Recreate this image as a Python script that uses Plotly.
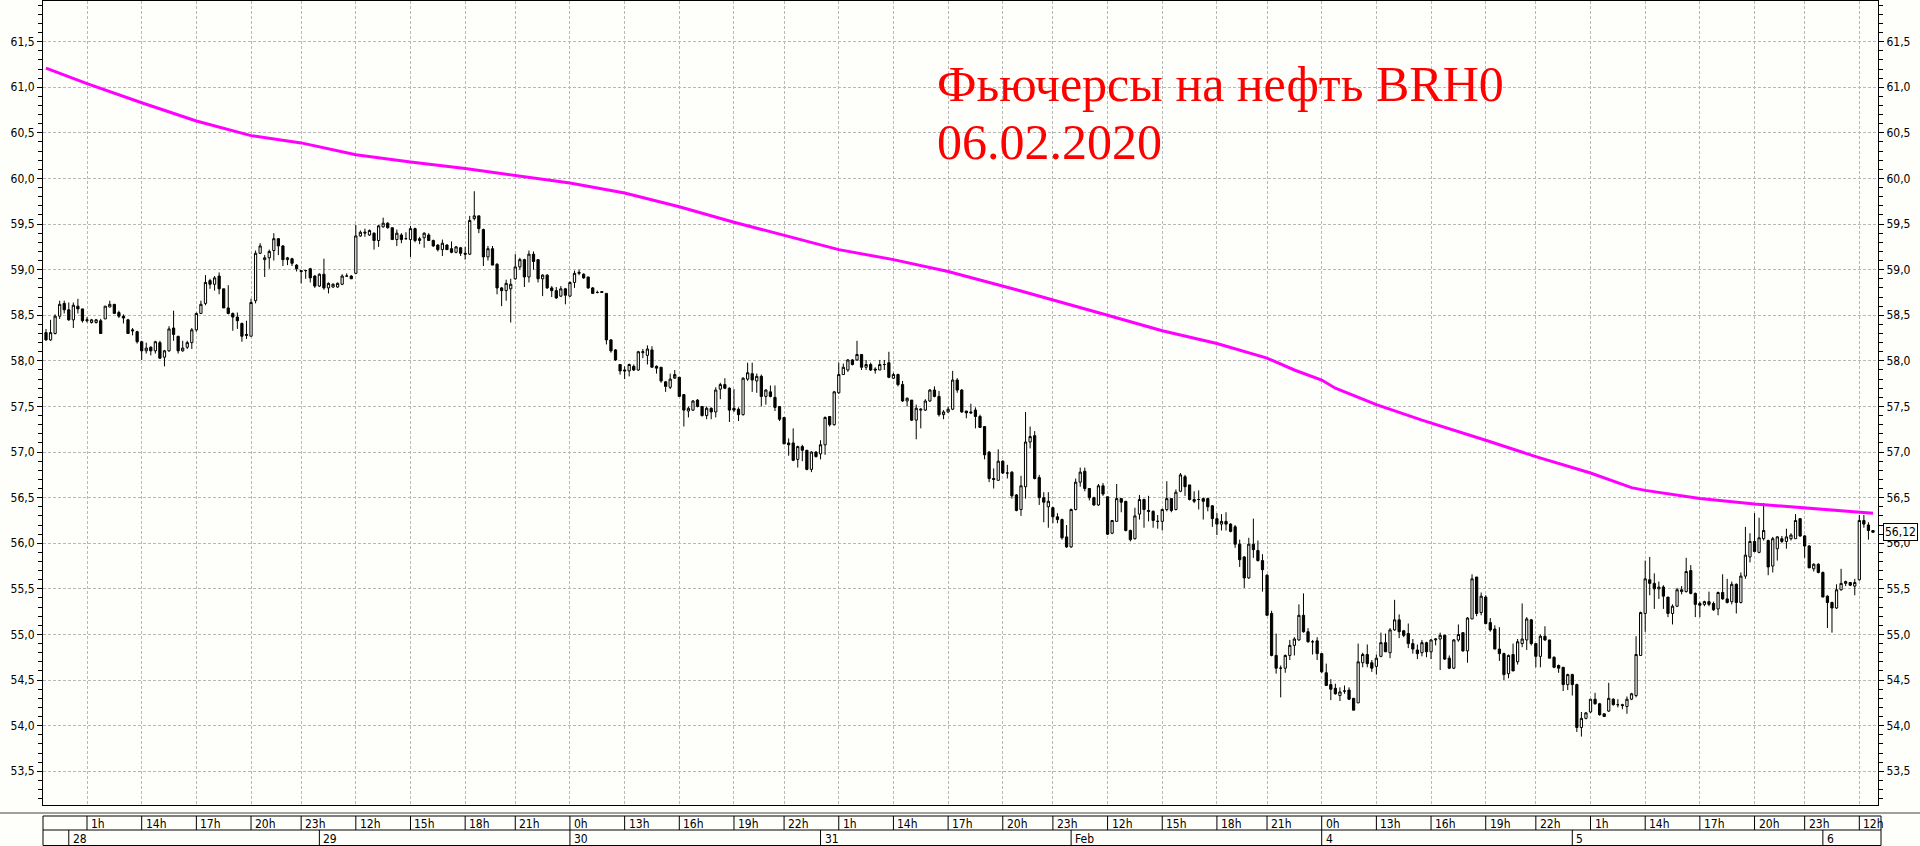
import plotly.graph_objects as go

# ---------------- DATA ----------------
opens = [
58.31, 58.23, 58.30, 58.49, 58.63, 58.56, 58.45, 58.60, 58.57, 58.44,
58.42, 58.42, 58.44, 58.46, 58.59, 58.62, 58.53, 58.49, 58.45, 58.34,
58.32, 58.21, 58.11, 58.15, 58.11, 58.20, 58.04, 58.11, 58.36, 58.27,
58.11, 58.15, 58.20, 58.34, 58.52, 58.63, 58.88, 58.84, 58.93, 58.79,
58.58, 58.52, 58.48, 58.41, 58.29, 58.27, 58.66, 59.18, 59.11, 59.13,
59.21, 59.34, 59.26, 59.11, 59.12, 59.05, 58.99, 58.99, 59.01, 58.93,
58.82, 58.95, 58.80, 58.81, 58.81, 58.84, 58.93, 58.93, 58.96, 59.37,
59.40, 59.38, 59.40, 59.32, 59.47, 59.51, 59.46, 59.33, 59.38, 59.34,
59.33, 59.45, 59.32, 59.35, 59.38, 59.32, 59.27, 59.22, 59.27, 59.23,
59.19, 59.24, 59.18, 59.17, 59.56, 59.59, 59.44, 59.14, 59.23, 59.06,
58.80, 58.77, 58.79, 58.90, 59.03, 59.11, 58.92, 59.17, 59.11, 58.90,
58.94, 58.80, 58.77, 58.71, 58.79, 58.71, 58.86, 58.96, 58.95, 58.92,
58.80, 58.75, 58.76, 58.74, 58.23, 58.12, 57.96, 57.90, 57.89, 57.94,
57.90, 58.09, 58.06, 58.12, 57.94, 57.93, 57.77, 57.71, 57.81, 57.82,
57.63, 57.45, 57.46, 57.57, 57.50, 57.40, 57.48, 57.44, 57.69, 57.74,
57.70, 57.48, 57.47, 57.41, 57.80, 57.86, 57.78, 57.83, 57.61, 57.66,
57.60, 57.50, 57.38, 57.10, 57.10, 56.92, 57.06, 57.02, 56.81, 57.00,
56.98, 57.08, 57.39, 57.30, 57.65, 57.85, 57.90, 58.01, 58.01, 58.07,
57.93, 57.96, 57.91, 57.90, 57.96, 57.98, 57.81, 57.85, 57.74, 57.56,
57.57, 57.35, 57.46, 57.46, 57.56, 57.68, 57.61, 57.41, 57.44, 57.47,
57.79, 57.68, 57.45, 57.44, 57.46, 57.39, 57.28, 57.00, 56.71, 56.69,
56.90, 56.77, 56.78, 56.53, 56.37, 56.62, 57.11, 57.18, 56.72, 56.50,
56.40, 56.39, 56.29, 56.26, 56.07, 55.96, 56.37, 56.67, 56.79, 56.60,
56.50, 56.42, 56.63, 56.51, 56.11, 56.24, 56.49, 56.46, 56.14, 56.05,
56.32, 56.48, 56.36, 56.35, 56.24, 56.24, 56.37, 56.49, 56.37, 56.57,
56.73, 56.64, 56.48, 56.48, 56.49, 56.49, 56.41, 56.27, 56.21, 56.24,
56.21, 56.18, 55.99, 55.85, 55.62, 55.99, 55.92, 55.81, 55.65, 55.23,
54.77, 54.63, 54.63, 54.77, 54.88, 54.94, 55.21, 55.03, 54.92, 54.93,
54.79, 54.58, 54.45, 54.41, 54.33, 54.38, 54.39, 54.30, 54.25, 54.69,
54.78, 54.69, 54.65, 54.76, 54.91, 54.80, 55.05, 55.16, 55.04, 55.01,
54.90, 54.83, 54.80, 54.91, 54.81, 54.94, 54.95, 54.99, 54.74, 54.63,
54.94, 55.02, 54.82, 55.17, 55.63, 55.24, 55.41, 55.13, 55.06, 54.84,
54.79, 54.57, 54.78, 54.70, 54.90, 54.94, 55.16, 54.90, 54.76, 54.98,
54.94, 54.75, 54.66, 54.64, 54.45, 54.56, 54.45, 53.98, 54.08, 54.15,
54.29, 54.24, 54.13, 54.16, 54.29, 54.23, 54.23, 54.21, 54.29, 54.33,
54.77, 55.23, 55.60, 55.56, 55.50, 55.52, 55.41, 55.23, 55.31, 55.47,
55.47, 55.70, 55.45, 55.34, 55.33, 55.36, 55.34, 55.28, 55.46, 55.39,
55.36, 55.55, 55.35, 55.64, 55.85, 56.02, 55.90, 56.05, 56.03, 55.75,
55.94, 56.05, 56.02, 56.05, 56.05, 56.27, 56.08, 55.97, 55.72, 55.77,
55.68, 55.42, 55.35, 55.29, 55.49, 55.56, 55.57, 55.53, 55.60, 56.25,
56.20, 56.14]

highs = [
58.35, 58.45, 58.51, 58.66, 58.66, 58.64, 58.64, 58.68, 58.57, 58.48,
58.46, 58.46, 58.46, 58.60, 58.66, 58.62, 58.55, 58.51, 58.46, 58.36,
58.33, 58.22, 58.20, 58.16, 58.22, 58.22, 58.12, 58.38, 58.55, 58.27,
58.22, 58.22, 58.36, 58.53, 58.66, 58.94, 58.90, 58.93, 58.97, 58.79,
58.83, 58.53, 58.53, 58.42, 58.44, 58.68, 59.21, 59.29, 59.16, 59.22,
59.40, 59.34, 59.27, 59.14, 59.13, 59.06, 58.99, 58.99, 59.02, 58.94,
58.96, 59.12, 58.86, 58.85, 58.86, 58.95, 58.96, 58.94, 59.49, 59.43,
59.45, 59.44, 59.41, 59.49, 59.57, 59.52, 59.46, 59.44, 59.40, 59.41,
59.48, 59.46, 59.36, 59.41, 59.40, 59.33, 59.28, 59.33, 59.28, 59.31,
59.26, 59.25, 59.25, 59.59, 59.86, 59.59, 59.45, 59.26, 59.26, 59.07,
58.81, 58.89, 58.90, 59.17, 59.13, 59.12, 59.21, 59.20, 59.11, 58.95,
58.95, 58.82, 58.81, 58.82, 58.80, 58.87, 58.99, 59.00, 58.96, 58.92,
58.81, 58.77, 58.76, 58.74, 58.24, 58.13, 57.96, 57.94, 57.97, 57.96,
58.11, 58.13, 58.17, 58.16, 57.95, 57.93, 57.78, 57.86, 57.90, 57.82,
57.63, 57.50, 57.57, 57.58, 57.50, 57.50, 57.49, 57.71, 57.76, 57.81,
57.71, 57.69, 57.49, 57.82, 57.98, 57.98, 57.86, 57.85, 57.69, 57.73,
57.73, 57.50, 57.38, 57.15, 57.26, 57.07, 57.08, 57.02, 57.01, 57.01,
57.13, 57.39, 57.39, 57.67, 57.98, 57.97, 58.02, 58.02, 58.22, 58.07,
58.01, 57.98, 57.93, 58.01, 58.01, 58.10, 57.87, 57.86, 57.78, 57.60,
57.57, 57.52, 57.48, 57.58, 57.69, 57.72, 57.67, 57.46, 57.50, 57.89,
57.81, 57.69, 57.45, 57.53, 57.49, 57.41, 57.28, 57.01, 56.82, 57.03,
56.91, 56.86, 56.79, 56.54, 56.74, 57.44, 57.28, 57.23, 56.75, 56.56,
56.56, 56.40, 56.33, 56.27, 56.20, 56.38, 56.71, 56.83, 56.83, 56.60,
56.51, 56.65, 56.66, 56.51, 56.25, 56.65, 56.49, 56.46, 56.15, 56.39,
56.53, 56.49, 56.52, 56.36, 56.31, 56.38, 56.68, 56.49, 56.59, 56.77,
56.75, 56.64, 56.57, 56.58, 56.50, 56.50, 56.42, 56.33, 56.32, 56.34,
56.22, 56.20, 56.04, 55.86, 56.06, 56.27, 56.03, 55.88, 55.66, 55.26,
55.01, 54.66, 54.78, 54.94, 54.97, 55.33, 55.45, 55.07, 54.94, 54.97,
54.79, 54.68, 54.51, 54.46, 54.42, 54.44, 54.42, 54.30, 54.90, 54.80,
54.89, 54.72, 54.78, 55.02, 55.01, 55.07, 55.38, 55.22, 55.05, 55.12,
54.95, 54.89, 54.94, 54.92, 54.95, 54.96, 55.02, 55.00, 54.77, 54.95,
55.11, 55.02, 55.19, 55.66, 55.63, 55.46, 55.43, 55.18, 55.10, 55.08,
54.80, 54.78, 54.90, 54.95, 55.34, 55.19, 55.17, 54.90, 55.00, 55.09,
54.94, 54.76, 54.67, 54.64, 54.57, 54.57, 54.46, 54.15, 54.15, 54.29,
54.36, 54.25, 54.13, 54.47, 54.30, 54.29, 54.24, 54.32, 54.36, 54.98,
55.25, 55.81, 55.85, 55.67, 55.58, 55.54, 55.41, 55.33, 55.51, 55.53,
55.84, 55.76, 55.46, 55.36, 55.37, 55.47, 55.36, 55.47, 55.66, 55.61,
55.58, 55.56, 55.68, 56.18, 56.11, 56.33, 56.28, 56.44, 56.04, 56.07,
56.08, 56.08, 56.16, 56.11, 56.32, 56.27, 56.09, 55.98, 55.78, 55.78,
55.69, 55.43, 55.36, 55.55, 55.72, 55.59, 55.57, 55.61, 56.31, 56.31,
56.23, 56.14]

lows = [
58.22, 58.22, 58.29, 58.46, 58.52, 58.44, 58.36, 58.52, 58.42, 58.42,
58.41, 58.41, 58.30, 58.46, 58.59, 58.52, 58.47, 58.41, 58.30, 58.28,
58.19, 58.01, 58.08, 58.06, 58.08, 58.02, 57.94, 58.10, 58.22, 58.08,
58.10, 58.13, 58.13, 58.32, 58.52, 58.61, 58.79, 58.77, 58.73, 58.58,
58.51, 58.33, 58.35, 58.21, 58.24, 58.27, 58.63, 59.17, 58.92, 59.01,
59.10, 59.16, 59.04, 59.05, 59.04, 58.98, 58.85, 58.90, 58.86, 58.80,
58.81, 58.78, 58.74, 58.80, 58.80, 58.83, 58.92, 58.90, 58.95, 59.36,
59.36, 59.37, 59.22, 59.25, 59.46, 59.45, 59.33, 59.26, 59.29, 59.33,
59.14, 59.30, 59.28, 59.24, 59.32, 59.25, 59.20, 59.15, 59.22, 59.18,
59.18, 59.15, 59.11, 59.16, 59.54, 59.40, 59.04, 59.10, 59.05, 58.73,
58.60, 58.66, 58.42, 58.89, 59.00, 58.81, 58.86, 59.00, 58.86, 58.71,
58.79, 58.70, 58.68, 58.70, 58.62, 58.70, 58.80, 58.94, 58.90, 58.79,
58.74, 58.74, 58.75, 58.18, 58.09, 58.00, 57.85, 57.80, 57.83, 57.89,
57.89, 58.03, 57.96, 57.93, 57.86, 57.76, 57.66, 57.69, 57.84, 57.61,
57.28, 57.38, 57.45, 57.49, 57.39, 57.36, 57.36, 57.38, 57.58, 57.69,
57.33, 57.44, 57.34, 57.40, 57.78, 57.66, 57.65, 57.50, 57.52, 57.60,
57.45, 57.34, 57.09, 56.96, 56.90, 56.83, 56.90, 56.80, 56.78, 56.94,
56.92, 56.97, 57.28, 57.29, 57.64, 57.85, 57.88, 57.95, 58.00, 57.90,
57.90, 57.89, 57.86, 57.90, 57.90, 57.81, 57.80, 57.72, 57.55, 57.50,
57.34, 57.14, 57.26, 57.45, 57.55, 57.60, 57.39, 57.36, 57.43, 57.46,
57.65, 57.43, 57.37, 57.42, 57.26, 57.27, 56.92, 56.67, 56.60, 56.69,
56.76, 56.71, 56.49, 56.35, 56.30, 56.49, 57.04, 56.70, 56.42, 56.23,
56.17, 56.22, 56.22, 56.04, 55.95, 55.95, 56.36, 56.62, 56.57, 56.47,
56.41, 56.41, 56.52, 56.09, 56.10, 56.24, 56.34, 56.13, 56.02, 56.04,
56.26, 56.17, 56.24, 56.17, 56.16, 56.14, 56.35, 56.34, 56.36, 56.56,
56.52, 56.47, 56.44, 56.37, 56.26, 56.35, 56.18, 56.09, 56.14, 56.14,
56.12, 55.95, 55.74, 55.51, 55.61, 55.84, 55.80, 55.47, 55.21, 54.76,
54.57, 54.31, 54.58, 54.72, 54.77, 54.93, 55.02, 54.91, 54.78, 54.72,
54.58, 54.44, 54.28, 54.34, 54.27, 54.35, 54.28, 54.17, 54.25, 54.64,
54.64, 54.59, 54.56, 54.75, 54.81, 54.74, 55.04, 54.96, 54.97, 54.85,
54.79, 54.73, 54.76, 54.75, 54.73, 54.88, 54.61, 54.72, 54.62, 54.62,
54.92, 54.81, 54.69, 55.17, 55.20, 55.21, 55.11, 55.03, 54.84, 54.71,
54.50, 54.52, 54.60, 54.67, 54.86, 54.83, 54.88, 54.64, 54.64, 54.93,
54.74, 54.63, 54.58, 54.38, 54.39, 54.33, 53.93, 53.88, 54.07, 54.14,
54.23, 54.11, 54.10, 54.15, 54.22, 54.20, 54.18, 54.13, 54.28, 54.31,
54.77, 55.03, 55.43, 55.28, 55.39, 55.28, 55.19, 55.11, 55.30, 55.44,
55.46, 55.44, 55.19, 55.19, 55.31, 55.31, 55.26, 55.21, 55.38, 55.34,
55.33, 55.23, 55.34, 55.61, 55.79, 55.90, 55.89, 56.03, 55.65, 55.68,
55.81, 56.00, 55.94, 56.03, 56.05, 56.07, 55.84, 55.73, 55.69, 55.67,
55.41, 55.07, 55.02, 55.28, 55.48, 55.53, 55.53, 55.43, 55.59, 56.17,
56.04, 56.12]

closes = [
58.23, 58.31, 58.49, 58.62, 58.56, 58.45, 58.61, 58.57, 58.44, 58.45,
58.45, 58.45, 58.30, 58.60, 58.62, 58.52, 58.49, 58.47, 58.30, 58.33,
58.21, 58.11, 58.14, 58.11, 58.21, 58.03, 58.11, 58.35, 58.29, 58.11,
58.14, 58.20, 58.34, 58.52, 58.62, 58.86, 58.84, 58.91, 58.79, 58.58,
58.52, 58.48, 58.44, 58.27, 58.28, 58.64, 59.18, 59.26, 59.13, 59.20,
59.34, 59.26, 59.11, 59.13, 59.07, 59.01, 58.98, 58.99, 58.91, 58.82,
58.95, 58.80, 58.85, 58.84, 58.85, 58.93, 58.93, 58.90, 59.37, 59.41,
59.41, 59.43, 59.32, 59.48, 59.51, 59.46, 59.33, 59.40, 59.33, 59.34,
59.45, 59.32, 59.34, 59.40, 59.32, 59.26, 59.22, 59.29, 59.22, 59.19,
59.25, 59.18, 59.17, 59.54, 59.59, 59.45, 59.14, 59.23, 59.05, 58.80,
58.77, 58.85, 58.84, 59.03, 59.11, 58.92, 59.17, 59.09, 58.90, 58.94,
58.80, 58.77, 58.69, 58.79, 58.72, 58.86, 58.96, 58.97, 58.91, 58.80,
58.74, 58.75, 58.75, 58.23, 58.11, 58.01, 57.89, 57.89, 57.96, 57.90,
58.10, 58.10, 58.13, 57.93, 57.92, 57.78, 57.72, 57.80, 57.85, 57.61,
57.46, 57.48, 57.56, 57.50, 57.40, 57.48, 57.44, 57.68, 57.74, 57.70,
57.46, 57.46, 57.41, 57.81, 57.87, 57.79, 57.83, 57.61, 57.68, 57.61,
57.49, 57.36, 57.09, 57.08, 56.91, 57.06, 57.02, 56.81, 57.00, 56.95,
57.08, 57.38, 57.30, 57.66, 57.85, 57.93, 58.01, 57.96, 58.07, 57.93,
57.96, 57.90, 57.90, 57.96, 57.96, 57.82, 57.85, 57.74, 57.56, 57.59,
57.35, 57.48, 57.47, 57.56, 57.68, 57.61, 57.41, 57.44, 57.47, 57.79,
57.68, 57.44, 57.43, 57.43, 57.39, 57.27, 56.97, 56.71, 56.70, 56.90,
56.77, 56.77, 56.52, 56.36, 56.63, 57.11, 57.17, 56.71, 56.50, 56.45,
56.46, 56.29, 56.26, 56.06, 55.96, 56.37, 56.67, 56.78, 56.60, 56.50,
56.42, 56.63, 56.54, 56.10, 56.25, 56.49, 56.45, 56.14, 56.04, 56.30,
56.48, 56.37, 56.35, 56.25, 56.24, 56.37, 56.49, 56.36, 56.56, 56.75,
56.62, 56.48, 56.46, 56.48, 56.46, 56.40, 56.27, 56.21, 56.24, 56.21,
56.13, 55.99, 55.82, 55.62, 55.99, 55.93, 55.81, 55.71, 55.21, 54.77,
54.63, 54.63, 54.77, 54.88, 54.95, 55.21, 55.03, 54.92, 54.92, 54.79,
54.59, 54.44, 54.40, 54.35, 54.37, 54.38, 54.29, 54.17, 54.70, 54.78,
54.68, 54.63, 54.74, 54.91, 54.81, 55.05, 55.16, 55.03, 54.99, 54.90,
54.84, 54.79, 54.91, 54.81, 54.94, 54.95, 54.99, 54.73, 54.63, 54.94,
55.00, 54.82, 55.18, 55.61, 55.23, 55.42, 55.12, 55.05, 54.84, 54.79,
54.56, 54.77, 54.60, 54.92, 54.95, 55.17, 54.90, 54.76, 54.98, 54.94,
54.74, 54.64, 54.63, 54.45, 54.56, 54.45, 53.98, 54.08, 54.14, 54.29,
54.24, 54.12, 54.10, 54.30, 54.23, 54.23, 54.22, 54.29, 54.35, 54.78,
55.24, 55.61, 55.56, 55.50, 55.52, 55.42, 55.23, 55.31, 55.49, 55.49,
55.69, 55.45, 55.33, 55.32, 55.36, 55.33, 55.27, 55.46, 55.39, 55.35,
55.55, 55.35, 55.64, 55.87, 56.02, 55.91, 56.06, 56.14, 55.74, 56.05,
56.07, 56.02, 56.07, 56.09, 56.25, 56.08, 55.97, 55.73, 55.77, 55.68,
55.41, 55.35, 55.29, 55.49, 55.56, 55.58, 55.54, 55.57, 56.25, 56.21,
56.14, 56.12]

# moving average line (bar index, value)
ma_idx = [0, 9, 21, 33, 45, 56, 68, 80, 92, 103, 115, 127, 139, 151, 162, 174,
          186, 198, 213, 221, 233, 245, 257, 268, 274, 280, 283, 292, 302, 316,
          327, 339, 348, 351, 363, 375, 386, 398, 401]
ma_val = [61.21, 61.04, 60.83, 60.63, 60.47, 60.39, 60.26, 60.18, 60.11, 60.03,
          59.95, 59.84, 59.69, 59.52, 59.38, 59.22, 59.11, 58.98, 58.78, 58.67,
          58.50, 58.33, 58.19, 58.03, 57.90, 57.79, 57.70, 57.52, 57.35, 57.13,
          56.95, 56.77, 56.61, 56.58, 56.49, 56.43, 56.39, 56.34, 56.33]

hour_ticks = [9, 21, 33, 45, 56, 68, 80, 92, 103, 115, 127, 139, 151, 162, 174,
              186, 198, 210, 221, 233, 245, 257, 268, 280, 292, 304, 316, 327,
              339, 351, 363, 375, 386, 398]
hour_labels = ['1h', '14h', '17h', '20h', '23h', '12h', '15h', '18h', '21h',
               '0h', '13h', '16h', '19h', '22h', '1h', '14h', '17h', '20h', '23h',
               '12h', '15h', '18h', '21h', '0h', '13h', '16h', '19h', '22h',
               '1h', '14h', '17h', '20h', '23h', '12h']
day_ticks = [5, 60, 115, 170, 225, 280, 335, 390]
day_labels = ['28', '29', '30', '31', 'Feb', '4', '5', '6']

title_line1 = 'Фьючерсы на нефть BRH0'
title_line2 = '06.02.2020'
last_price = 56.12

assert len(opens) == len(highs) == len(lows) == len(closes)
bars = list(range(len(opens)))

# ---------------- LAYOUT CONSTANTS ----------------
W, H = 1920, 846
ML, MR, MT, MB = 43, 42, 1, 41
PLOT_H = H - MT - MB
BG = '#fefefa'
GRID = '#b8b8b8'
TICKFONT = dict(family='Liberation Sans Narrow, DejaVu Sans Condensed, Arial Narrow, sans-serif',
                size=12, color='black')
YR = [53.13, 61.946]
XR = [-0.66, 402.1]


def py(ypix):
    """pixel row -> paper y"""
    return (H - MB - ypix) / PLOT_H


def px(xpix):
    return (xpix - ML) / (W - ML - MR)


fig = go.Figure()

fig.add_trace(go.Scatter(x=ma_idx, y=ma_val, mode='lines',
                         line=dict(color='#ff00ff', width=3),
                         hoverinfo='skip', showlegend=False))

fig.add_trace(go.Candlestick(
    x=bars, open=opens, high=highs, low=lows, close=closes,
    increasing=dict(line=dict(color='black', width=1), fillcolor='white'),
    decreasing=dict(line=dict(color='black', width=1), fillcolor='black'),
    whiskerwidth=0, hoverinfo='skip', showlegend=False))

# dummy trace to activate right axis
fig.add_trace(go.Scatter(x=[0], y=[57], yaxis='y2', mode='markers',
                         marker=dict(opacity=0), hoverinfo='skip', showlegend=False))

shapes = []
# grey separator
shapes.append(dict(type='line', xref='paper', yref='paper', x0=px(0), x1=px(W),
                   y0=py(813), y1=py(813), line=dict(color='#a0a0a0', width=2)))
# time box
shapes.append(dict(type='rect', xref='paper', yref='paper', x0=0, x1=px(1881),
                   y0=py(845.5), y1=py(816), line=dict(color='black', width=1)))
shapes.append(dict(type='line', xref='paper', yref='paper', x0=0, x1=px(1881),
                   y0=py(830), y1=py(830), line=dict(color='black', width=1)))
annotations = []
for t, lab in zip(hour_ticks, hour_labels):
    shapes.append(dict(type='line', xref='x', yref='paper', x0=t, x1=t,
                       y0=py(816), y1=py(830), line=dict(color='black', width=1)))
    annotations.append(dict(x=t, y=py(823.5), xref='x', yref='paper', text=lab,
                            showarrow=False, xanchor='left', yanchor='middle',
                            xshift=2, font=TICKFONT))
for t, lab in zip(day_ticks, day_labels):
    shapes.append(dict(type='line', xref='x', yref='paper', x0=t, x1=t,
                       y0=py(830), y1=py(845.5), line=dict(color='black', width=1)))
    annotations.append(dict(x=t, y=py(838.5), xref='x', yref='paper', text=lab,
                            showarrow=False, xanchor='left', yanchor='middle',
                            xshift=2, font=TICKFONT))

# title
TFONT = dict(family='Liberation Serif, Times New Roman, serif', size=50, color='#ff0000')
annotations.append(dict(x=px(935), y=py(83.5), xref='paper', yref='paper',
                        text=title_line1, showarrow=False, xanchor='left',
                        yanchor='middle', font=TFONT))
annotations.append(dict(x=px(935), y=py(142), xref='paper', yref='paper',
                        text=title_line2, showarrow=False, xanchor='left',
                        yanchor='middle', font=TFONT))
# last price box
annotations.append(dict(x=px(1883), y=last_price, xref='paper', yref='y',
                        text=f'{last_price:.2f}'.replace('.', ','), showarrow=False,
                        xanchor='left', yanchor='middle', font=TICKFONT,
                        bordercolor='black', borderwidth=1, borderpad=1, bgcolor=BG))

yaxis_common = dict(range=YR, dtick=0.5, tick0=53.5, tickformat='.1f',
                    ticks='outside', ticklen=5, tickcolor='black', tickwidth=1,
                    showline=True, linecolor='black', linewidth=1,
                    zeroline=False, fixedrange=True, tickfont=TICKFONT,
                    minor=dict(dtick=0.1, ticklen=4, ticks='outside',
                               tickcolor='black', showgrid=False))

fig.update_layout(
    width=W, height=H,
    margin=dict(l=ML, r=MR, t=MT, b=MB, pad=0),
    paper_bgcolor=BG, plot_bgcolor=BG,
    separators=',.',
    showlegend=False,
    hovermode=False,
    dragmode=False,
    boxgap=0.3,
    xaxis=dict(range=XR, tickvals=hour_ticks, showticklabels=False, ticks='',
               showgrid=True, gridcolor=GRID, griddash='3px,2px', gridwidth=1,
               showline=True, linecolor='black', linewidth=1, mirror=True,
               zeroline=False, fixedrange=True,
               rangeslider=dict(visible=False)),
    yaxis=dict(**yaxis_common, side='left', showgrid=True, gridcolor=GRID,
               griddash='3px,2px', gridwidth=1),
    yaxis2=dict(**yaxis_common, side='right', overlaying='y', showgrid=False),
    shapes=shapes,
    annotations=annotations,
)

fig.write_html('out.html', config={'staticPlot': True},
               post_script="document.body.style.margin='0';document.body.style.overflow='hidden';")
